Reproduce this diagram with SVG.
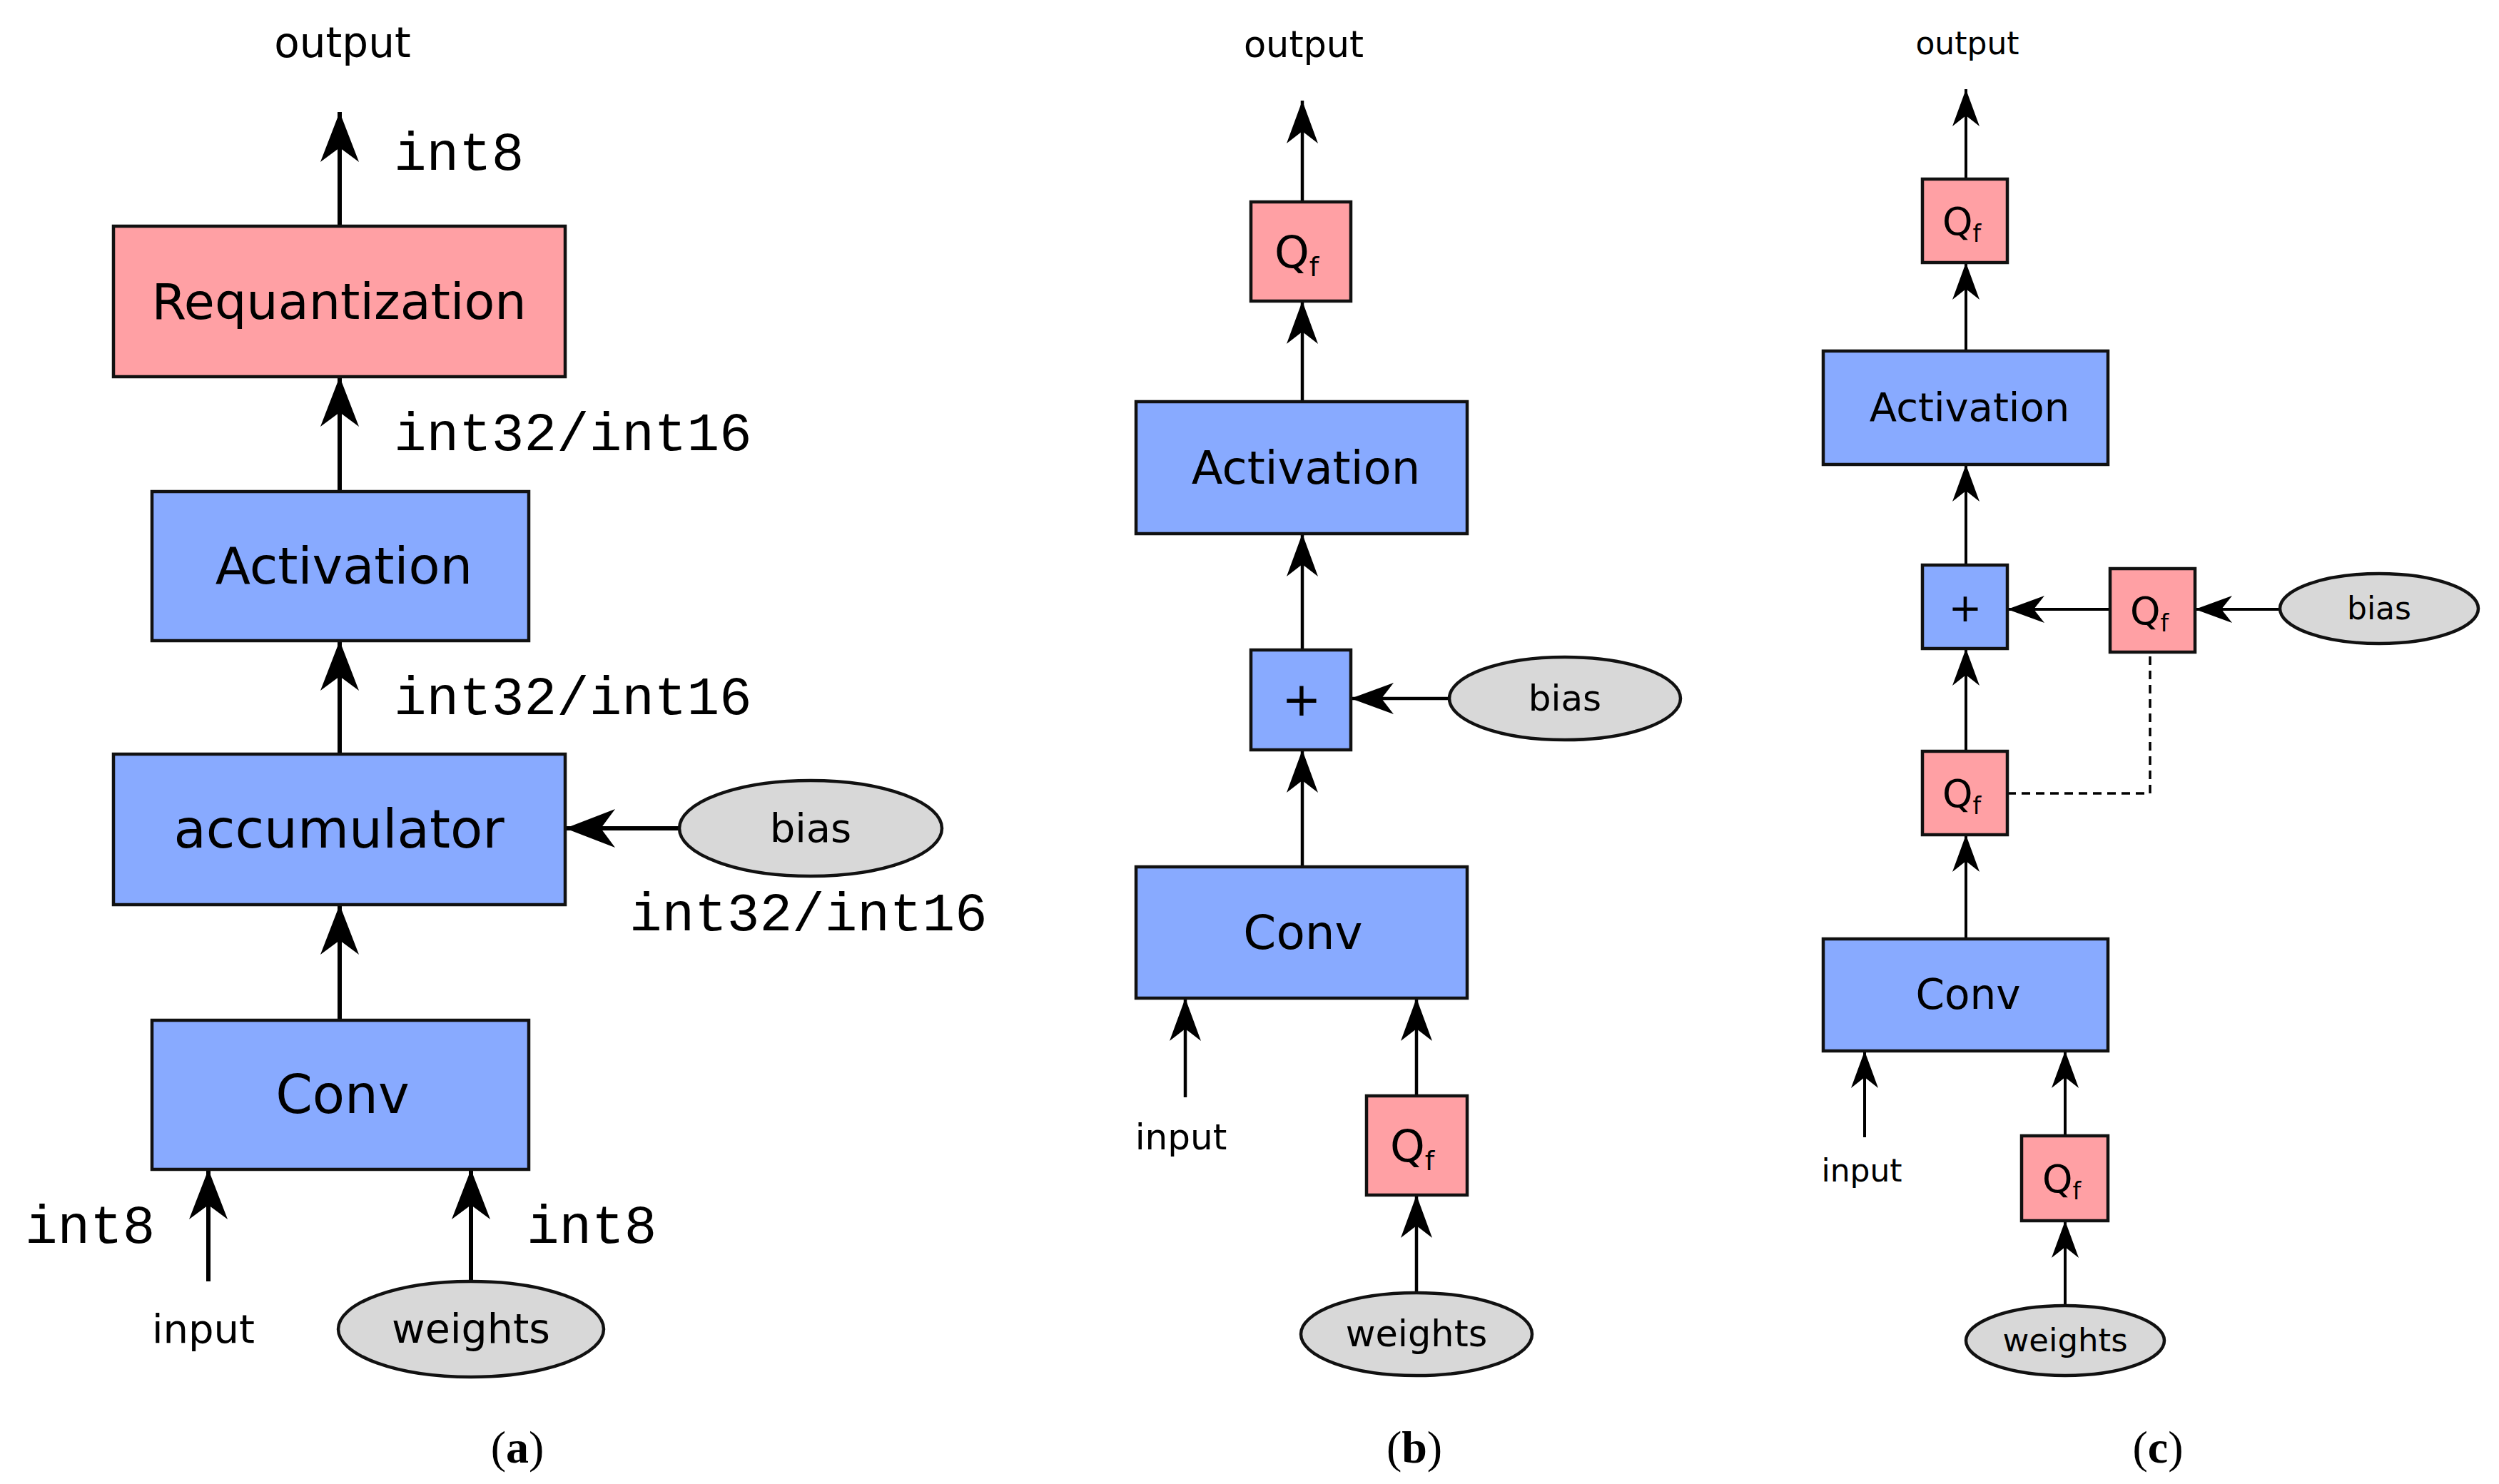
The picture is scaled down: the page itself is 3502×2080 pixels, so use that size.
<svg xmlns="http://www.w3.org/2000/svg" width="3502" height="2080" viewBox="0 0 3502 2080">
<defs>
<marker id="ha" markerUnits="userSpaceOnUse" markerWidth="70" markerHeight="54" viewBox="0 0 70 54" refX="70" refY="27" orient="auto"><path d="M70,27 L0,0 L20,27 L0,54 Z" fill="#000"/></marker>
<marker id="hb" markerUnits="userSpaceOnUse" markerWidth="60" markerHeight="44" viewBox="0 0 60 44" refX="60" refY="22" orient="auto"><path d="M60,22 L0,0 L17,22 L0,44 Z" fill="#000"/></marker>
<marker id="hc" markerUnits="userSpaceOnUse" markerWidth="52" markerHeight="38" viewBox="0 0 52 38" refX="52" refY="19" orient="auto"><path d="M52,19 L0,0 L15,19 L0,38 Z" fill="#000"/></marker>
</defs>
<style>
text{font-family:"DejaVu Sans",sans-serif;fill:#000}
.m{font-family:"Liberation Mono",monospace;font-size:76px}
.blue{fill:#88aaff;stroke:#111;stroke-width:4.5}
.red{fill:#ffa0a4;stroke:#111;stroke-width:4.5}
.ell{fill:#d8d8d8;stroke:#111;stroke-width:4.5}
.la{stroke:#000;stroke-width:6;fill:none;marker-end:url(#ha)}
.lb{stroke:#000;stroke-width:4.5;fill:none;marker-end:url(#hb)}
.lc{stroke:#000;stroke-width:4;fill:none;marker-end:url(#hc)}
.cap{font-family:"Liberation Serif",serif;font-size:64px}
</style>
<rect width="3502" height="2080" fill="#fff"/>
<g id="connectors">
<line class="la" x1="476" y1="317" x2="476" y2="157"/>
<line class="la" x1="476" y1="689" x2="476" y2="528"/>
<line class="la" x1="476" y1="1057" x2="476" y2="898"/>
<line class="la" x1="476" y1="1430" x2="476" y2="1268"/>
<line class="la" x1="952" y1="1161" x2="792" y2="1161"/>
<line class="la" x1="292" y1="1796" x2="292" y2="1639"/>
<line class="la" x1="660" y1="1796" x2="660" y2="1639"/>
<line class="lb" x1="1825" y1="283" x2="1825" y2="141"/>
<line class="lb" x1="1825" y1="563" x2="1825" y2="422"/>
<line class="lb" x1="1825" y1="911" x2="1825" y2="748"/>
<line class="lb" x1="1825" y1="1215" x2="1825" y2="1051"/>
<line class="lb" x1="2031" y1="979" x2="1893" y2="979"/>
<line class="lb" x1="1661" y1="1538" x2="1661" y2="1399"/>
<line class="lb" x1="1985" y1="1536" x2="1985" y2="1399"/>
<line class="lb" x1="1985" y1="1812" x2="1985" y2="1675"/>
<line class="lc" x1="2755" y1="251" x2="2755" y2="125"/>
<line class="lc" x1="2755" y1="492" x2="2755" y2="368"/>
<line class="lc" x1="2755" y1="792" x2="2755" y2="651"/>
<line class="lc" x1="2755" y1="1053" x2="2755" y2="909"/>
<line class="lc" x1="2755" y1="1316" x2="2755" y2="1170"/>
<line class="lc" x1="2957" y1="854" x2="2813" y2="854"/>
<line class="lc" x1="3195" y1="854" x2="3076" y2="854"/>
<line class="lc" x1="2613" y1="1594" x2="2613" y2="1473"/>
<line class="lc" x1="2894" y1="1592" x2="2894" y2="1473"/>
<line class="lc" x1="2894" y1="1830" x2="2894" y2="1711"/>
<path d="M2813,1112 H3013 V914" stroke="#000" stroke-width="3.5" fill="none" stroke-dasharray="12,8"/>
</g>
<g id="a-labels">
<text x="480" y="80" font-size="58" text-anchor="middle">output</text>
<text class="m" x="552" y="238">int8</text>
<text class="m" x="552" y="631">int32/int16</text>
<text class="m" x="552" y="1001">int32/int16</text>
<text class="m" x="882" y="1304">int32/int16</text>
<text class="m" x="35" y="1742">int8</text>
<text class="m" x="738" y="1742">int8</text>
<text x="285" y="1882" font-size="56" text-anchor="middle">input</text>
</g>
<g id="a-requant"><rect class="red" x="159" y="317" width="633" height="211"/><text x="475" y="447" font-size="70" text-anchor="middle">Requantization</text></g>
<g id="a-activation"><rect class="blue" x="213" y="689" width="528" height="209"/><text x="482" y="818" font-size="72" text-anchor="middle">Activation</text></g>
<g id="a-acc"><rect class="blue" x="159" y="1057" width="633" height="211"/><text x="475" y="1188" font-size="74" text-anchor="middle">accumulator</text></g>
<g id="a-conv"><rect class="blue" x="213" y="1430" width="528" height="209"/><text x="480" y="1560" font-size="74" text-anchor="middle">Conv</text></g>
<g id="a-bias"><ellipse class="ell" cx="1136" cy="1161" rx="184" ry="67"/><text x="1136" y="1180" font-size="56" text-anchor="middle">bias</text></g>
<g id="a-weights"><ellipse class="ell" cx="660" cy="1863" rx="186" ry="67"/><text x="660" y="1882" font-size="57" text-anchor="middle">weights</text></g>
<text class="cap" x="725" y="2050" text-anchor="middle">(<tspan font-weight="bold">a</tspan>)</text>

<g id="b-labels">
<text x="1827" y="80" font-size="51" text-anchor="middle">output</text>
<text x="1655" y="1611" font-size="50" text-anchor="middle">input</text>
</g>
<g id="b-qf-top"><rect class="red" x="1753" y="283" width="140" height="139"/><text x="1817" y="375" font-size="62" text-anchor="middle">Q<tspan font-size="38" dy="12">f</tspan></text></g>
<g id="b-activation"><rect class="blue" x="1592" y="563" width="464" height="185"/><text x="1830" y="678" font-size="64" text-anchor="middle">Activation</text></g>
<g id="b-plus"><rect class="blue" x="1753" y="911" width="140" height="140"/><text x="1824" y="1003" font-size="66" text-anchor="middle">+</text></g>
<g id="b-bias"><ellipse class="ell" cx="2193" cy="979" rx="162" ry="58"/><text x="2193" y="996" font-size="50" text-anchor="middle">bias</text></g>
<g id="b-conv"><rect class="blue" x="1592" y="1215" width="464" height="184"/><text x="1826" y="1330" font-size="66" text-anchor="middle">Conv</text></g>
<g id="b-qf-bot"><rect class="red" x="1915" y="1536" width="141" height="139"/><text x="1979" y="1628" font-size="62" text-anchor="middle">Q<tspan font-size="38" dy="12">f</tspan></text></g>
<g id="b-weights"><ellipse class="ell" cx="1985" cy="1870" rx="162" ry="58"/><text x="1985" y="1887" font-size="51" text-anchor="middle">weights</text></g>
<text class="cap" x="1982" y="2050" text-anchor="middle">(<tspan font-weight="bold">b</tspan>)</text>

<g id="c-labels">
<text x="2757" y="76" font-size="44" text-anchor="middle">output</text>
<text x="2609" y="1656" font-size="44" text-anchor="middle">input</text>
</g>
<g id="c-qf-top"><rect class="red" x="2694" y="251" width="119" height="117"/><text x="2749" y="329" font-size="54" text-anchor="middle">Q<tspan font-size="33" dy="10">f</tspan></text></g>
<g id="c-activation"><rect class="blue" x="2555" y="492" width="399" height="159"/><text x="2760" y="590" font-size="56" text-anchor="middle">Activation</text></g>
<g id="c-plus"><rect class="blue" x="2694" y="792" width="119" height="117"/><text x="2754" y="871" font-size="56" text-anchor="middle">+</text></g>
<g id="c-qf-right"><rect class="red" x="2957" y="797" width="119" height="117"/><text x="3012" y="875" font-size="54" text-anchor="middle">Q<tspan font-size="33" dy="10">f</tspan></text></g>
<g id="c-bias"><ellipse class="ell" cx="3334" cy="853" rx="139" ry="49"/><text x="3334" y="868" font-size="44" text-anchor="middle">bias</text></g>
<g id="c-qf-mid"><rect class="red" x="2694" y="1053" width="119" height="117"/><text x="2749" y="1131" font-size="54" text-anchor="middle">Q<tspan font-size="33" dy="10">f</tspan></text></g>
<g id="c-conv"><rect class="blue" x="2555" y="1316" width="399" height="157"/><text x="2758" y="1414" font-size="58" text-anchor="middle">Conv</text></g>
<g id="c-qf-bot"><rect class="red" x="2833" y="1592" width="121" height="119"/><text x="2889" y="1671" font-size="54" text-anchor="middle">Q<tspan font-size="33" dy="10">f</tspan></text></g>
<g id="c-weights"><ellipse class="ell" cx="2894" cy="1879" rx="139" ry="49"/><text x="2894" y="1894" font-size="45" text-anchor="middle">weights</text></g>
<text class="cap" x="3024" y="2050" text-anchor="middle">(<tspan font-weight="bold">c</tspan>)</text>
</svg>
